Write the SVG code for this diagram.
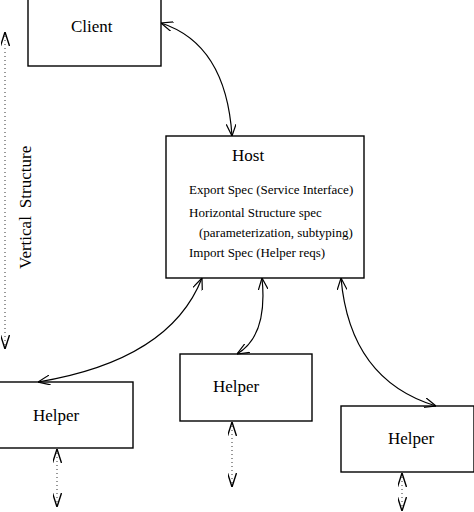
<svg xmlns="http://www.w3.org/2000/svg" width="474" height="512" viewBox="0 0 474 512">
<style>
.box{fill:#fff;stroke:#000;stroke-width:1.4}
.lbl{font-family:"Liberation Serif","Times New Roman",serif;font-size:17px;fill:#000}
.spec{font-family:"Liberation Serif","Times New Roman",serif;font-size:13px;fill:#000}
.conn{fill:none;stroke:#000;stroke-width:1.2}
.dot{fill:none;stroke:#444;stroke-width:1.1;stroke-dasharray:1 3}
</style>
<defs>
<marker id="ah" viewBox="0 0 12 10" refX="12" refY="5" markerWidth="12" markerHeight="10" markerUnits="userSpaceOnUse" orient="auto-start-reverse">
<path d="M0,0 L12,5 L0,10" fill="none" stroke="#000" stroke-width="1.2"/>
</marker>
<marker id="av" viewBox="0 0 14 9" refX="14" refY="4.5" markerWidth="14" markerHeight="9" markerUnits="userSpaceOnUse" orient="auto-start-reverse">
<path d="M0,0 L14,4.5 L0,9" fill="none" stroke="#000" stroke-width="1.4"/>
</marker>
</defs>
<rect width="474" height="512" fill="#fff"/>
<g id="client">
<rect class="box" x="28" y="-5" width="133" height="71"/>
<text class="lbl" x="71" y="32">Client</text>
</g>
<g id="host">
<rect class="box" x="166" y="136" width="198" height="142"/>
<text class="lbl" x="232" y="161">Host</text>
<text class="spec" x="189" y="194">Export Spec (Service Interface)</text>
<text class="spec" x="189" y="217">Horizontal Structure spec</text>
<text class="spec" x="199" y="237">(parameterization, subtyping)</text>
<text class="spec" x="189" y="257">Import Spec (Helper reqs)</text>
</g>
<g id="helper1">
<rect class="box" x="-2" y="382" width="135" height="66"/>
<text class="lbl" x="33" y="421">Helper</text>
</g>
<g id="helper2">
<rect class="box" x="180" y="354" width="132" height="67"/>
<text class="lbl" x="213" y="392">Helper</text>
</g>
<g id="helper3">
<rect class="box" x="341" y="406" width="133" height="66"/>
<text class="lbl" x="388" y="444">Helper</text>
</g>
<g id="vertical">
<text class="lbl" transform="translate(31,269) rotate(-90)">Vertical<tspan dx="8">Structure</tspan></text>
</g>
<g id="connectors">
<path class="conn" d="M161,23 Q226,44 232,136" marker-start="url(#ah)" marker-end="url(#ah)"/>
<path class="conn" d="M202,278 Q170,360 38,382" marker-start="url(#ah)" marker-end="url(#ah)"/>
<path class="conn" d="M262,278 Q268,336 237,354" marker-start="url(#ah)" marker-end="url(#ah)"/>
<path class="conn" d="M341,278 Q350,380 436,406" marker-start="url(#ah)" marker-end="url(#ah)"/>
<path class="dot" d="M5,32 L5,349" marker-start="url(#av)" marker-end="url(#av)"/>
<path class="dot" d="M57,449 L57,507" marker-start="url(#av)" marker-end="url(#av)"/>
<path class="dot" d="M232,422 L232,487" marker-start="url(#av)" marker-end="url(#av)"/>
<path class="dot" d="M402,473 L402,511" marker-start="url(#av)" marker-end="url(#av)"/>
</g>
</svg>
